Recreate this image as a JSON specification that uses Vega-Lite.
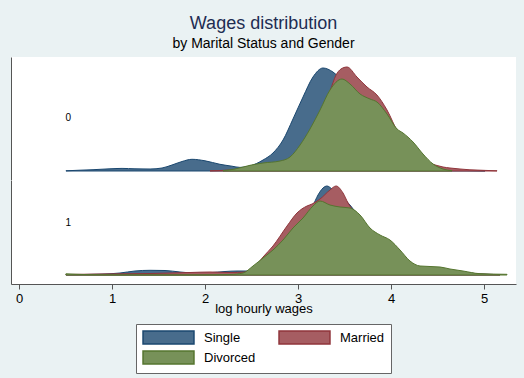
{
  "$schema": "https://vega.github.io/schema/vega-lite/v6.json",
  "background": "#EAF2F3",
  "padding": {"left": 11, "top": 15, "right": 8, "bottom": 8},
  "title": {
    "text": "Wages distribution",
    "subtitle": "by Marital Status and Gender",
    "anchor": "middle",
    "font": "Liberation Sans",
    "fontSize": 18,
    "fontWeight": "normal",
    "color": "#1e2d52",
    "subtitleFont": "Liberation Sans",
    "subtitleFontSize": 14,
    "subtitleColor": "#000000",
    "subtitlePadding": 4,
    "offset": 6
  },
  "config": {
    "font": "Liberation Sans",
    "view": {"fill": "white", "stroke": null},
    "concat": {"spacing": 0},
    "legend": {"columns": 2, "direction": "horizontal", "symbolType": "M-3.92,-1H3.92V1H-3.92Z", "symbolSize": 169, "symbolOffset": 19, "symbolStrokeWidth": 1.5, "symbolOpacity": 1, "labelFontSize": 13, "labelFont": "Liberation Sans", "labelColor": "#000000", "labelOffset": 28, "columnPadding": 20, "rowPadding": 1, "padding": 6, "strokeColor": "#666666", "fillColor": "#ffffff"}
  },
  "spacing": 0,
  "resolve": {"scale": {"y": "independent", "x": "shared", "fill": "shared", "stroke": "shared"}},
  "data": {
    "values": [
      {"gender": "0", "status": "Single", "wage": 0.505, "density": 0.002},
      {"gender": "0", "status": "Single", "wage": 0.656, "density": 0.008},
      {"gender": "0", "status": "Single", "wage": 0.796, "density": 0.013},
      {"gender": "0", "status": "Single", "wage": 0.978, "density": 0.022},
      {"gender": "0", "status": "Single", "wage": 1.108, "density": 0.026},
      {"gender": "0", "status": "Single", "wage": 1.247, "density": 0.022},
      {"gender": "0", "status": "Single", "wage": 1.409, "density": 0.020},
      {"gender": "0", "status": "Single", "wage": 1.538, "density": 0.030},
      {"gender": "0", "status": "Single", "wage": 1.645, "density": 0.060},
      {"gender": "0", "status": "Single", "wage": 1.753, "density": 0.095},
      {"gender": "0", "status": "Single", "wage": 1.860, "density": 0.117},
      {"gender": "0", "status": "Single", "wage": 2.000, "density": 0.102},
      {"gender": "0", "status": "Single", "wage": 2.161, "density": 0.067},
      {"gender": "0", "status": "Single", "wage": 2.290, "density": 0.048},
      {"gender": "0", "status": "Single", "wage": 2.376, "density": 0.036},
      {"gender": "0", "status": "Single", "wage": 2.484, "density": 0.050},
      {"gender": "0", "status": "Single", "wage": 2.624, "density": 0.110},
      {"gender": "0", "status": "Single", "wage": 2.731, "density": 0.180},
      {"gender": "0", "status": "Single", "wage": 2.839, "density": 0.310},
      {"gender": "0", "status": "Single", "wage": 2.946, "density": 0.520},
      {"gender": "0", "status": "Single", "wage": 3.054, "density": 0.740},
      {"gender": "0", "status": "Single", "wage": 3.161, "density": 0.940},
      {"gender": "0", "status": "Single", "wage": 3.269, "density": 1.030},
      {"gender": "0", "status": "Single", "wage": 3.376, "density": 0.990},
      {"gender": "0", "status": "Single", "wage": 3.452, "density": 0.930},
      {"gender": "0", "status": "Single", "wage": 3.527, "density": 0.880},
      {"gender": "0", "status": "Single", "wage": 3.634, "density": 0.760},
      {"gender": "0", "status": "Single", "wage": 3.742, "density": 0.620},
      {"gender": "0", "status": "Single", "wage": 3.849, "density": 0.470},
      {"gender": "0", "status": "Single", "wage": 3.957, "density": 0.330},
      {"gender": "0", "status": "Single", "wage": 4.075, "density": 0.200},
      {"gender": "0", "status": "Single", "wage": 4.204, "density": 0.110},
      {"gender": "0", "status": "Single", "wage": 4.312, "density": 0.060},
      {"gender": "0", "status": "Single", "wage": 4.419, "density": 0.030},
      {"gender": "0", "status": "Single", "wage": 4.634, "density": 0.012},
      {"gender": "0", "status": "Single", "wage": 4.849, "density": 0.004},
      {"gender": "0", "status": "Single", "wage": 5.011, "density": 0.001},

      {"gender": "0", "status": "Married", "wage": 2.054, "density": 0.002},
      {"gender": "0", "status": "Married", "wage": 2.269, "density": 0.010},
      {"gender": "0", "status": "Married", "wage": 2.484, "density": 0.030},
      {"gender": "0", "status": "Married", "wage": 2.624, "density": 0.060},
      {"gender": "0", "status": "Married", "wage": 2.806, "density": 0.090},
      {"gender": "0", "status": "Married", "wage": 2.914, "density": 0.130},
      {"gender": "0", "status": "Married", "wage": 3.022, "density": 0.240},
      {"gender": "0", "status": "Married", "wage": 3.129, "density": 0.400},
      {"gender": "0", "status": "Married", "wage": 3.237, "density": 0.590},
      {"gender": "0", "status": "Married", "wage": 3.344, "density": 0.800},
      {"gender": "0", "status": "Married", "wage": 3.409, "density": 0.960},
      {"gender": "0", "status": "Married", "wage": 3.462, "density": 1.020},
      {"gender": "0", "status": "Married", "wage": 3.527, "density": 1.040},
      {"gender": "0", "status": "Married", "wage": 3.634, "density": 0.940},
      {"gender": "0", "status": "Married", "wage": 3.742, "density": 0.840},
      {"gender": "0", "status": "Married", "wage": 3.849, "density": 0.760},
      {"gender": "0", "status": "Married", "wage": 3.957, "density": 0.610},
      {"gender": "0", "status": "Married", "wage": 4.075, "density": 0.390},
      {"gender": "0", "status": "Married", "wage": 4.204, "density": 0.270},
      {"gender": "0", "status": "Married", "wage": 4.312, "density": 0.160},
      {"gender": "0", "status": "Married", "wage": 4.419, "density": 0.080},
      {"gender": "0", "status": "Married", "wage": 4.495, "density": 0.055},
      {"gender": "0", "status": "Married", "wage": 4.559, "density": 0.040},
      {"gender": "0", "status": "Married", "wage": 4.634, "density": 0.030},
      {"gender": "0", "status": "Married", "wage": 4.742, "density": 0.020},
      {"gender": "0", "status": "Married", "wage": 4.849, "density": 0.012},
      {"gender": "0", "status": "Married", "wage": 5.011, "density": 0.006},
      {"gender": "0", "status": "Married", "wage": 5.140, "density": 0.002},

      {"gender": "0", "status": "Divorced", "wage": 2.194, "density": 0.003},
      {"gender": "0", "status": "Divorced", "wage": 2.323, "density": 0.020},
      {"gender": "0", "status": "Divorced", "wage": 2.484, "density": 0.057},
      {"gender": "0", "status": "Divorced", "wage": 2.624, "density": 0.080},
      {"gender": "0", "status": "Divorced", "wage": 2.806, "density": 0.100},
      {"gender": "0", "status": "Divorced", "wage": 2.914, "density": 0.140},
      {"gender": "0", "status": "Divorced", "wage": 3.022, "density": 0.260},
      {"gender": "0", "status": "Divorced", "wage": 3.129, "density": 0.420},
      {"gender": "0", "status": "Divorced", "wage": 3.237, "density": 0.610},
      {"gender": "0", "status": "Divorced", "wage": 3.344, "density": 0.810},
      {"gender": "0", "status": "Divorced", "wage": 3.473, "density": 0.920},
      {"gender": "0", "status": "Divorced", "wage": 3.559, "density": 0.870},
      {"gender": "0", "status": "Divorced", "wage": 3.667, "density": 0.770},
      {"gender": "0", "status": "Divorced", "wage": 3.774, "density": 0.720},
      {"gender": "0", "status": "Divorced", "wage": 3.849, "density": 0.690},
      {"gender": "0", "status": "Divorced", "wage": 3.957, "density": 0.570},
      {"gender": "0", "status": "Divorced", "wage": 4.065, "density": 0.420},
      {"gender": "0", "status": "Divorced", "wage": 4.129, "density": 0.380},
      {"gender": "0", "status": "Divorced", "wage": 4.237, "density": 0.290},
      {"gender": "0", "status": "Divorced", "wage": 4.344, "density": 0.170},
      {"gender": "0", "status": "Divorced", "wage": 4.452, "density": 0.070},
      {"gender": "0", "status": "Divorced", "wage": 4.559, "density": 0.020},
      {"gender": "0", "status": "Divorced", "wage": 4.656, "density": 0.003},

      {"gender": "1", "status": "Single", "wage": 0.505, "density": 0.003},
      {"gender": "1", "status": "Single", "wage": 0.871, "density": 0.008},
      {"gender": "1", "status": "Single", "wage": 1.086, "density": 0.020},
      {"gender": "1", "status": "Single", "wage": 1.247, "density": 0.040},
      {"gender": "1", "status": "Single", "wage": 1.409, "density": 0.047},
      {"gender": "1", "status": "Single", "wage": 1.570, "density": 0.045},
      {"gender": "1", "status": "Single", "wage": 1.731, "density": 0.030},
      {"gender": "1", "status": "Single", "wage": 1.892, "density": 0.020},
      {"gender": "1", "status": "Single", "wage": 2.054, "density": 0.023},
      {"gender": "1", "status": "Single", "wage": 2.215, "density": 0.035},
      {"gender": "1", "status": "Single", "wage": 2.344, "density": 0.040},
      {"gender": "1", "status": "Single", "wage": 2.484, "density": 0.040},
      {"gender": "1", "status": "Single", "wage": 2.624, "density": 0.120},
      {"gender": "1", "status": "Single", "wage": 2.774, "density": 0.280},
      {"gender": "1", "status": "Single", "wage": 2.882, "density": 0.420},
      {"gender": "1", "status": "Single", "wage": 2.989, "density": 0.550},
      {"gender": "1", "status": "Single", "wage": 3.097, "density": 0.650},
      {"gender": "1", "status": "Single", "wage": 3.161, "density": 0.700},
      {"gender": "1", "status": "Single", "wage": 3.215, "density": 0.800},
      {"gender": "1", "status": "Single", "wage": 3.269, "density": 0.870},
      {"gender": "1", "status": "Single", "wage": 3.312, "density": 0.890},
      {"gender": "1", "status": "Single", "wage": 3.366, "density": 0.860},
      {"gender": "1", "status": "Single", "wage": 3.452, "density": 0.800},
      {"gender": "1", "status": "Single", "wage": 3.559, "density": 0.700},
      {"gender": "1", "status": "Single", "wage": 3.667, "density": 0.570},
      {"gender": "1", "status": "Single", "wage": 3.774, "density": 0.450},
      {"gender": "1", "status": "Single", "wage": 3.882, "density": 0.370},
      {"gender": "1", "status": "Single", "wage": 3.989, "density": 0.310},
      {"gender": "1", "status": "Single", "wage": 4.097, "density": 0.220},
      {"gender": "1", "status": "Single", "wage": 4.204, "density": 0.120},
      {"gender": "1", "status": "Single", "wage": 4.312, "density": 0.070},
      {"gender": "1", "status": "Single", "wage": 4.527, "density": 0.060},
      {"gender": "1", "status": "Single", "wage": 4.742, "density": 0.030},
      {"gender": "1", "status": "Single", "wage": 4.957, "density": 0.010},
      {"gender": "1", "status": "Single", "wage": 5.172, "density": 0.004},

      {"gender": "1", "status": "Married", "wage": 0.505, "density": 0.005},
      {"gender": "1", "status": "Married", "wage": 0.871, "density": 0.010},
      {"gender": "1", "status": "Married", "wage": 1.409, "density": 0.015},
      {"gender": "1", "status": "Married", "wage": 1.839, "density": 0.025},
      {"gender": "1", "status": "Married", "wage": 2.054, "density": 0.030},
      {"gender": "1", "status": "Married", "wage": 2.269, "density": 0.025},
      {"gender": "1", "status": "Married", "wage": 2.430, "density": 0.030},
      {"gender": "1", "status": "Married", "wage": 2.516, "density": 0.060},
      {"gender": "1", "status": "Married", "wage": 2.624, "density": 0.180},
      {"gender": "1", "status": "Married", "wage": 2.731, "density": 0.290},
      {"gender": "1", "status": "Married", "wage": 2.882, "density": 0.490},
      {"gender": "1", "status": "Married", "wage": 2.989, "density": 0.620},
      {"gender": "1", "status": "Married", "wage": 3.097, "density": 0.690},
      {"gender": "1", "status": "Married", "wage": 3.151, "density": 0.710},
      {"gender": "1", "status": "Married", "wage": 3.237, "density": 0.760},
      {"gender": "1", "status": "Married", "wage": 3.344, "density": 0.850},
      {"gender": "1", "status": "Married", "wage": 3.409, "density": 0.890},
      {"gender": "1", "status": "Married", "wage": 3.484, "density": 0.820},
      {"gender": "1", "status": "Married", "wage": 3.538, "density": 0.720},
      {"gender": "1", "status": "Married", "wage": 3.613, "density": 0.620},
      {"gender": "1", "status": "Married", "wage": 3.720, "density": 0.480},
      {"gender": "1", "status": "Married", "wage": 3.828, "density": 0.400},
      {"gender": "1", "status": "Married", "wage": 3.989, "density": 0.300},
      {"gender": "1", "status": "Married", "wage": 4.097, "density": 0.210},
      {"gender": "1", "status": "Married", "wage": 4.204, "density": 0.120},
      {"gender": "1", "status": "Married", "wage": 4.312, "density": 0.070},
      {"gender": "1", "status": "Married", "wage": 4.527, "density": 0.050},
      {"gender": "1", "status": "Married", "wage": 4.742, "density": 0.030},
      {"gender": "1", "status": "Married", "wage": 4.957, "density": 0.010},
      {"gender": "1", "status": "Married", "wage": 5.172, "density": 0.004},

      {"gender": "1", "status": "Divorced", "wage": 0.505, "density": 0.012},
      {"gender": "1", "status": "Divorced", "wage": 0.602, "density": 0.008},
      {"gender": "1", "status": "Divorced", "wage": 0.742, "density": 0.003},
      {"gender": "1", "status": "Divorced", "wage": 1.086, "density": 0.001},
      {"gender": "1", "status": "Divorced", "wage": 1.946, "density": 0.001},
      {"gender": "1", "status": "Divorced", "wage": 2.269, "density": 0.005},
      {"gender": "1", "status": "Divorced", "wage": 2.409, "density": 0.020},
      {"gender": "1", "status": "Divorced", "wage": 2.516, "density": 0.090},
      {"gender": "1", "status": "Divorced", "wage": 2.624, "density": 0.170},
      {"gender": "1", "status": "Divorced", "wage": 2.731, "density": 0.250},
      {"gender": "1", "status": "Divorced", "wage": 2.839, "density": 0.350},
      {"gender": "1", "status": "Divorced", "wage": 2.946, "density": 0.470},
      {"gender": "1", "status": "Divorced", "wage": 3.054, "density": 0.570},
      {"gender": "1", "status": "Divorced", "wage": 3.161, "density": 0.690},
      {"gender": "1", "status": "Divorced", "wage": 3.237, "density": 0.740},
      {"gender": "1", "status": "Divorced", "wage": 3.344, "density": 0.700},
      {"gender": "1", "status": "Divorced", "wage": 3.452, "density": 0.680},
      {"gender": "1", "status": "Divorced", "wage": 3.559, "density": 0.670},
      {"gender": "1", "status": "Divorced", "wage": 3.667, "density": 0.600},
      {"gender": "1", "status": "Divorced", "wage": 3.774, "density": 0.470},
      {"gender": "1", "status": "Divorced", "wage": 3.882, "density": 0.400},
      {"gender": "1", "status": "Divorced", "wage": 3.989, "density": 0.350},
      {"gender": "1", "status": "Divorced", "wage": 4.097, "density": 0.250},
      {"gender": "1", "status": "Divorced", "wage": 4.204, "density": 0.140},
      {"gender": "1", "status": "Divorced", "wage": 4.312, "density": 0.090},
      {"gender": "1", "status": "Divorced", "wage": 4.527, "density": 0.080},
      {"gender": "1", "status": "Divorced", "wage": 4.634, "density": 0.060},
      {"gender": "1", "status": "Divorced", "wage": 4.774, "density": 0.040},
      {"gender": "1", "status": "Divorced", "wage": 4.957, "density": 0.013},
      {"gender": "1", "status": "Divorced", "wage": 5.247, "density": 0.007}
    ]
  },
  "vconcat": [
    {
      "width": 505,
      "height": 123,
      "transform": [{"filter": "datum.gender == '0'"}],
      "layer": [
        {
          "transform": [{"filter": "datum.status == 'Single'"}],
          "mark": {"type": "area", "interpolate": "monotone", "strokeWidth": 1, "opacity": 1},
          "encoding": {
            "x": {"field": "wage", "type": "quantitative", "scale": {"domain": [-0.086, 5.344], "nice": false, "zero": false}, "axis": null},
            "y": {"field": "density", "type": "quantitative", "stack": null, "scale": {"domain": [-0.09, 1.14], "nice": false, "zero": false}, "axis": {"domain": true, "domainColor": "#555555", "ticks": false, "labels": false, "grid": false, "title": null}},
            "y2": {"datum": 0},
            "fill": {"field": "status", "type": "nominal", "scale": {"domain": ["Single", "Married", "Divorced"], "range": ["#486c8c", "#a65d62", "#779159"]},
              "legend": {"orient": "none", "legendX": 125, "legendY": 267, "title": null}},
            "stroke": {"field": "status", "type": "nominal", "scale": {"domain": ["Single", "Married", "Divorced"], "range": ["#1a476f", "#90353b", "#55752f"]},
              "legend": {"orient": "none", "legendX": 125, "legendY": 267, "title": null}}
          }
        },
        {
          "transform": [{"filter": "datum.status == 'Married'"}],
          "mark": {"type": "area", "interpolate": "monotone", "strokeWidth": 1, "opacity": 1},
          "encoding": {
            "x": {"field": "wage", "type": "quantitative"},
            "y": {"field": "density", "type": "quantitative", "stack": null},
            "y2": {"datum": 0},
            "fill": {"field": "status", "type": "nominal"},
            "stroke": {"field": "status", "type": "nominal"}
          }
        },
        {
          "transform": [{"filter": "datum.status == 'Divorced'"}],
          "mark": {"type": "area", "interpolate": "monotone", "strokeWidth": 1, "opacity": 1},
          "encoding": {
            "x": {"field": "wage", "type": "quantitative"},
            "y": {"field": "density", "type": "quantitative", "stack": null},
            "y2": {"datum": 0},
            "fill": {"field": "status", "type": "nominal"},
            "stroke": {"field": "status", "type": "nominal"}
          }
        },
        {
          "data": {"values": [{"label": "0"}]},
          "mark": {"type": "text", "fontSize": 10, "font": "Liberation Sans", "color": "#000000"},
          "encoding": {
            "x": {"datum": 0.53, "type": "quantitative"},
            "y": {"datum": 0.53, "type": "quantitative"},
            "text": {"field": "label"}
          }
        }
      ]
    },
    {
      "width": 505,
      "height": 104,
      "transform": [{"filter": "datum.gender == '1'"}],
      "layer": [
        {
          "transform": [{"filter": "datum.status == 'Single'"}],
          "mark": {"type": "area", "interpolate": "monotone", "strokeWidth": 1, "opacity": 1},
          "encoding": {
            "x": {"field": "wage", "type": "quantitative", "title": "log hourly wages",
              "axis": {"values": [0, 1, 2, 3, 4, 5], "format": "d", "grid": false, "tickSize": 5, "domainColor": "#555555", "tickColor": "#555555", "labelFontSize": 13, "labelFont": "Liberation Sans", "labelColor": "#000000", "labelPadding": 3, "titleFontSize": 13, "titleFont": "Liberation Sans", "titleFontWeight": "normal", "titleColor": "#000000", "titlePadding": -3}},
            "y": {"field": "density", "type": "quantitative", "stack": null, "scale": {"domain": [-0.09, 0.95], "nice": false, "zero": false}, "axis": {"domain": true, "domainColor": "#555555", "ticks": false, "labels": false, "grid": false, "title": null}},
            "y2": {"datum": 0},
            "fill": {"field": "status", "type": "nominal"},
            "stroke": {"field": "status", "type": "nominal"}
          }
        },
        {
          "transform": [{"filter": "datum.status == 'Married'"}],
          "mark": {"type": "area", "interpolate": "monotone", "strokeWidth": 1, "opacity": 1},
          "encoding": {
            "x": {"field": "wage", "type": "quantitative"},
            "y": {"field": "density", "type": "quantitative", "stack": null},
            "y2": {"datum": 0},
            "fill": {"field": "status", "type": "nominal"},
            "stroke": {"field": "status", "type": "nominal"}
          }
        },
        {
          "transform": [{"filter": "datum.status == 'Divorced'"}],
          "mark": {"type": "area", "interpolate": "monotone", "strokeWidth": 1, "opacity": 1},
          "encoding": {
            "x": {"field": "wage", "type": "quantitative"},
            "y": {"field": "density", "type": "quantitative", "stack": null},
            "y2": {"datum": 0},
            "fill": {"field": "status", "type": "nominal"},
            "stroke": {"field": "status", "type": "nominal"}
          }
        },
        {
          "data": {"values": [{"label": "1"}]},
          "mark": {"type": "text", "fontSize": 10, "font": "Liberation Sans", "color": "#000000"},
          "encoding": {
            "x": {"datum": 0.53, "type": "quantitative"},
            "y": {"datum": 0.52, "type": "quantitative"},
            "text": {"field": "label"}
          }
        }
      ]
    }
  ]
}
